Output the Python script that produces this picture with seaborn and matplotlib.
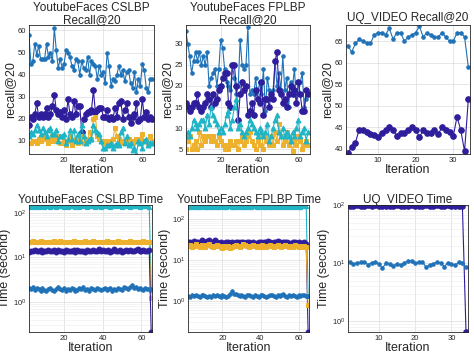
import matplotlib
matplotlib.use("Agg")
import matplotlib.pyplot as plt
import seaborn as sns

# ---- data ---------------------------------------------------------------
# YoutubeFaces CSLBP recall@20 (iterations 2..65)
cslbp_rec_blue = [58, 45, 46, 54, 49, 53, 47, 47, 47, 54, 48, 50, 46, 61, 51, 43,
                  47, 43, 45, 51, 50, 48, 44, 42, 47, 46, 40, 46, 43, 42, 48, 40,
                  46, 45, 44, 38, 44, 40, 41, 36, 50, 44, 35, 38, 37, 40, 44, 40,
                  42, 37, 41, 42, 36, 34, 41, 32, 38, 35, 45, 42, 34, 32, 38, 38]
cslbp_rec_purple = [17, 21, 20, 22, 27, 21, 22, 21, 22, 25, 21, 22, 26, 31, 24, 22,
                    23, 21, 24, 20, 29, 22, 21, 28, 22, 26, 26, 14, 20, 22, 23, 23,
                    24, 33, 23, 24, 25, 25, 21, 21, 24, 20, 21, 20, 25, 21, 27, 28,
                    20, 24, 27, 21, 18, 21, 22, 27, 19, 20, 29, 21, 23, 20, 21, 20]
cslbp_rec_yellow = [9, 9, 10, 10, 9, 11, 10, 12, 11, 11, 9, 10, 12, 10, 11, 12,
                    9, 9, 10, 8, 10, 12, 8, 10, 11, 9, 10, 12, 9, 11, 10, 14,
                    11, 20, 21, 12, 11, 10, 9, 10, 9, 10, 10, 11, 16, 12, 11, 9,
                    10, 10, 9, 11, 10, 9, 10, 11, 10, 11, 13, 10, 10, 9, 12, 10]
cslbp_rec_cyan = [12, 14, 13, 15, 17, 15, 13, 16, 14, 12, 15, 16, 13, 13, 15, 10,
                  12, 12, 13, 9, 11, 15, 11, 15, 10, 13, 10, 17, 12, 9, 10, 11,
                  11, 17, 15, 14, 13, 10, 7, 7, 8, 8, 9, 7, 8, 9, 8, 14,
                  16, 9, 12, 8, 9, 6, 7, 4, 10, 9, 7, 10, 11, 8, 9, 9]

# YoutubeFaces FPLBP recall@20
fplbp_rec_blue = [33, 30, 27, 23, 26, 28, 26, 28, 25, 27, 25, 28, 20, 22, 23, 24,
                  20, 24, 31, 29, 24, 21, 20, 19, 25, 22, 18, 20, 31, 25, 24, 25,
                  34, 18, 19, 18, 22, 17, 21, 18, 24, 14, 22, 19, 17, 19, 26, 20,
                  23, 19, 27, 19, 22, 15, 21, 20, 24, 16, 18, 21, 23, 15, 17, 18]
fplbp_rec_purple = [16, 15, 14, 15, 16, 16, 18, 15, 14, 15, 16, 18, 17, 15, 18, 16,
                    17, 19, 20, 22, 23, 23, 16, 15, 25, 25, 20, 12, 18, 21, 19, 20,
                    13, 14, 16, 13, 19, 17, 16, 21, 13, 17, 17, 15, 18, 17, 26, 28,
                    19, 18, 16, 17, 15, 18, 20, 18, 19, 16, 21, 18, 14, 14, 19, 18]
fplbp_rec_yellow = [5, 7, 8, 5, 6, 7, 5, 9, 6, 8, 7, 8, 8, 7, 8, 7,
                    6, 8, 7, 6, 5, 6, 5, 7, 6, 6, 7, 5, 7, 8, 6, 7,
                    8, 9, 7, 6, 5, 7, 6, 9, 5, 8, 7, 6, 8, 6, 9, 7,
                    11, 8, 6, 7, 9, 6, 7, 4.5, 7, 6, 8, 7, 5, 6, 7, 6]
fplbp_rec_cyan = [8, 9, 8, 10, 12, 11, 10, 11, 12, 12, 10, 13, 11, 15, 13, 12,
                  11, 9, 10, 9, 11, 13, 14, 10, 12, 15, 17, 10, 11, 9, 8, 9,
                  10, 12, 11, 10, 9, 8, 10, 9, 8, 9, 11, 7, 8, 10, 12, 13,
                  9, 8, 10, 8, 9, 8, 7, 9, 8, 10, 12, 8, 9, 10, 7, 9]

# UQ_VIDEO recall@20 (iterations 2..34)
uq_rec_blue = [64, 62.5, 64.5, 65.5, 65, 64.5, 64.5, 66.5, 67, 67, 66.5, 68, 65.5,
               67, 67, 65, 66, 66.5, 67, 68.5, 66, 67, 66.5, 66, 66, 67, 66, 65,
               65, 67, 67, 66, 59]
uq_rec_purple = [39, 40.5, 41.5, 44.5, 44.5, 44, 43.5, 43.2, 42.8, 43.8, 44.5, 45,
                 44.3, 43, 43.8, 43.8, 44.5, 45, 44.5, 42.8, 44.3, 43.8, 43.8, 44.5,
                 43.5, 45, 44.5, 44, 43, 47.5, 44.3, 39.5, 51.5]

# YoutubeFaces CSLBP time (seconds)
cslbp_t_cyan = [140, 138, 142, 139, 141, 137, 140, 143, 139, 141, 140, 138, 142, 140,
                139, 141, 143, 140, 138, 141, 139, 140, 142, 141, 139, 140, 138, 141,
                143, 140, 139, 142, 140, 141, 138, 140, 142, 139, 141, 140, 143, 141,
                139, 140, 142, 145, 150, 141, 139, 140, 142, 141, 138, 140, 141, 143,
                140, 139, 141, 142, 140, 141, 139, 1.9]
cslbp_t_yellow = [22.5, 22.3, 22.8, 22.1, 22.6, 22.4, 22.9, 22.2, 22.5, 22.7, 22.3,
                  22.6, 22.4, 22.8, 22.2, 22.5, 22.9, 22.3, 22.6, 22.4, 22.7, 22.5,
                  22.2, 22.8, 22.4, 22.6, 22.3, 22.7, 22.5, 22.9, 22.4, 22.2, 22.6,
                  22.8, 22.3, 22.5, 22.7, 22.4, 22.6, 22.2, 22.8, 22.5, 22.3, 22.7,
                  22.4, 22.6, 23.0, 22.5, 22.3, 22.7, 22.4, 22.6, 22.8, 22.3, 22.5,
                  22.7, 22.4, 22.6, 22.2, 22.8, 22.5, 22.4, 22.6, 1.2]
cslbp_t_purple = [13.5, 14.2, 13.8, 14.5, 13.6, 14.0, 14.8, 13.4, 14.3, 13.9, 14.6,
                  13.7, 14.1, 15.0, 13.5, 14.4, 13.8, 14.2, 13.3, 14.7, 13.9, 14.0,
                  13.6, 14.5, 13.4, 14.8, 14.1, 13.7, 14.3, 13.5, 14.6, 14.0, 13.8,
                  14.4, 13.6, 14.2, 15.1, 13.9, 14.5, 13.7, 14.0, 14.8, 13.5, 14.3,
                  15.5, 14.1, 13.8, 14.6, 13.4, 14.2, 14.9, 13.7, 14.4, 14.0, 13.6,
                  14.7, 15.2, 13.9, 14.3, 14.5, 13.8, 14.1, 14.4, 0.21]
cslbp_t_blue = [2.1, 2.0, 2.2, 1.9, 2.1, 2.0, 1.8, 2.1, 1.9, 1.8, 2.0, 2.1, 1.9, 1.8,
                2.0, 2.2, 2.0, 1.9, 2.1, 1.8, 2.0, 1.9, 2.1, 2.0, 1.8, 1.9, 2.1, 2.0,
                2.2, 1.9, 2.0, 1.8, 2.1, 2.0, 1.9, 2.1, 2.0, 1.9, 2.0, 2.1, 1.9, 2.0,
                2.1, 1.8, 2.0, 1.9, 2.1, 2.0, 1.9, 2.2, 2.1, 2.0, 2.2, 2.4, 2.1, 2.2,
                2.0, 2.1, 2.0, 1.9, 2.1, 2.0, 2.0, 2.0]

# YoutubeFaces FPLBP time (seconds)
fplbp_t_cyan = [200, 196, 204, 199, 206, 201, 197, 203, 208, 200, 198, 205, 202, 199,
                207, 201, 196, 204, 210, 200, 198, 203, 206, 199, 201, 197, 205, 202,
                208, 200, 199, 204, 201, 197, 206, 203, 200, 198, 205, 209, 201, 199,
                204, 200, 197, 206, 202, 210, 199, 203, 200, 205, 198, 207, 201, 204,
                199, 206, 202, 200, 208, 203, 205, 1.3]
fplbp_t_purple = [27, 28, 26, 29, 27, 28, 26, 30, 28, 27, 29, 31, 28, 27, 30, 28,
                  26, 27, 25, 26, 27, 28, 26, 27, 25, 27, 28, 26, 27, 28, 26, 27,
                  28, 26, 27, 25, 26, 27, 28, 26, 27, 28, 29, 27, 26, 28, 27, 29,
                  28, 26, 27, 28, 27, 26, 25, 27, 28, 26, 27, 25, 26, 27, 25, 0.17]
fplbp_t_yellow = [22, 23, 21, 22, 24, 22, 21, 23, 22, 21, 23, 24, 22, 21, 22, 23,
                  22, 21, 20, 22, 21, 22, 20, 21, 22, 23, 22, 21, 22, 24, 23, 22,
                  21, 22, 23, 22, 21, 22, 21, 23, 22, 21, 22, 23, 22, 21, 22, 23,
                  22, 21, 22, 23, 22, 21, 22, 21, 23, 22, 21, 22, 21, 22, 21, 0.8]
fplbp_t_blue = [1.3, 1.25, 1.35, 1.3, 1.4, 1.3, 1.25, 1.35, 1.4, 1.3, 1.2, 1.3, 1.25,
                1.35, 1.3, 1.4, 1.3, 1.25, 1.35, 1.3, 1.2, 1.3, 1.45, 1.7, 1.5, 1.45,
                1.4, 1.3, 1.35, 1.3, 1.25, 1.35, 1.4, 1.3, 1.25, 1.35, 1.3, 1.25,
                1.35, 1.4, 1.3, 1.25, 1.3, 1.35, 1.4, 1.3, 1.25, 1.35, 1.3, 1.4,
                1.45, 1.3, 1.25, 1.35, 1.3, 1.4, 1.3, 1.25, 1.35, 1.3, 1.35, 1.4,
                1.3, 1.3]

# UQ_VIDEO time (seconds)
uq_t_purple = [100, 98, 101, 97, 99, 102, 100, 101, 99, 100, 98, 97, 99, 101, 100,
               98, 100, 102, 99, 100, 98, 101, 100, 99, 102, 100, 98, 101, 100, 99,
               97, 98, 0.65]
uq_t_blue = [10.5, 9.8, 10.2, 10.5, 10.8, 9.5, 10.3, 10.6, 9.9, 8.3, 10.2, 9.6, 9.2,
             9.8, 9.5, 10.1, 11.2, 11.0, 10.2, 10.5, 10.8, 8.6, 9.5, 9.9, 10.6,
             10.2, 8.8, 10.3, 9.8, 9.4, 10.5, 10.2, 8.6]

BLUE = "#1f72b8"
PURPLE = "#2e1e9c"
YELLOW = "#eeb12e"
CYAN = "#1fb4c6"


def iters(values):
    return list(range(2, 2 + len(values)))


def draw(ax, values, color, marker, ms, lw=0.8):
    sns.lineplot(x=iters(values), y=values, ax=ax, color=color, marker=marker,
                 markersize=ms, markeredgecolor=color, linewidth=lw)


def style(ax, title, ylabel, log=False, pad=1.5):
    ax.set_title(title, fontsize=8.5, pad=pad, linespacing=0.95)
    ax.set_xlabel("Iteration", fontsize=9, labelpad=0)
    ax.set_ylabel(ylabel, fontsize=9, labelpad=1)
    ax.tick_params(labelsize=5.5, direction="in", length=2, pad=2, colors="#262626")
    ax.grid(True, which="major", color="#dcdcdc", linewidth=0.5)
    if log:
        ax.set_yscale("log")
        ax.grid(True, which="minor", color="#ececec", linewidth=0.4)
    for s in ax.spines.values():
        s.set_color("#262626")
        s.set_linewidth(0.6)


def main() -> None:
    sns.set_style("white")
    plt.rcParams["font.family"] = ["Liberation Sans", "DejaVu Sans"]

    fig = plt.figure(figsize=(4.74, 3.56), dpi=100)
    ax1 = fig.add_axes([0.061, 0.567, 0.264, 0.363])
    ax2 = fig.add_axes([0.392, 0.567, 0.262, 0.363])
    ax3 = fig.add_axes([0.730, 0.567, 0.262, 0.363])
    ax4 = fig.add_axes([0.061, 0.067, 0.260, 0.357])
    ax5 = fig.add_axes([0.397, 0.067, 0.255, 0.357])
    ax6 = fig.add_axes([0.734, 0.067, 0.253, 0.357])

    # top row: recall
    draw(ax1, cslbp_rec_blue, BLUE, "o", 2.5)
    draw(ax1, cslbp_rec_purple, PURPLE, "o", 4)
    draw(ax1, cslbp_rec_yellow, YELLOW, "s", 2.5)
    draw(ax1, cslbp_rec_cyan, CYAN, "^", 3.5)
    ax1.set_xlim(2, 66)
    ax1.set_ylim(4, 62.5)
    ax1.set_xticks([20, 40, 60])
    style(ax1, "YoutubeFaces CSLBP\nRecall@20", "recall@20")

    draw(ax2, fplbp_rec_blue, BLUE, "o", 2.5)
    draw(ax2, fplbp_rec_purple, PURPLE, "o", 4)
    draw(ax2, fplbp_rec_yellow, YELLOW, "s", 2.5)
    draw(ax2, fplbp_rec_cyan, CYAN, "^", 3.5)
    ax2.set_xlim(2, 66)
    ax2.set_ylim(3.8, 34.5)
    ax2.set_xticks([20, 40, 60])
    style(ax2, "YoutubeFaces FPLBP\nRecall@20", "recall@20")

    draw(ax3, uq_rec_blue, BLUE, "o", 2.5)
    draw(ax3, uq_rec_purple, PURPLE, "o", 4)
    ax3.set_xlim(1.5, 34.5)
    ax3.set_ylim(38.8, 68.8)
    ax3.set_xticks([10, 20, 30])
    style(ax3, "UQ_VIDEO Recall@20", "recall@20", pad=3)

    # bottom row: time
    draw(ax4, cslbp_t_cyan, CYAN, "^", 3)
    draw(ax4, cslbp_t_yellow, YELLOW, "s", 2.5)
    draw(ax4, cslbp_t_purple, PURPLE, "o", 3.5)
    draw(ax4, cslbp_t_blue, BLUE, "o", 2.5)
    ax4.set_xlim(2, 65.5)
    ax4.set_ylim(0.21, 150)
    ax4.set_xticks([20, 40, 60])
    style(ax4, "YoutubeFaces CSLBP Time", "Time (second)", log=True)

    draw(ax5, fplbp_t_cyan, CYAN, "^", 3)
    draw(ax5, fplbp_t_purple, PURPLE, "o", 3.5)
    draw(ax5, fplbp_t_yellow, YELLOW, "s", 2.5)
    draw(ax5, fplbp_t_blue, BLUE, "o", 2.5)
    ax5.set_xlim(2, 65.5)
    ax5.set_ylim(0.17, 220)
    ax5.set_xticks([20, 40, 60])
    style(ax5, "YoutubeFaces FPLBP Time", "Time (second)", log=True)

    draw(ax6, uq_t_purple, PURPLE, "o", 4)
    draw(ax6, uq_t_blue, BLUE, "o", 2.5)
    ax6.set_xlim(1.5, 34.5)
    ax6.set_ylim(0.65, 102)
    ax6.set_xticks([10, 20, 30])
    style(ax6, "UQ_VIDEO Time", "Time (second)", log=True)

    fig.savefig("out.png", dpi=100)


if __name__ == "__main__":
    main()
